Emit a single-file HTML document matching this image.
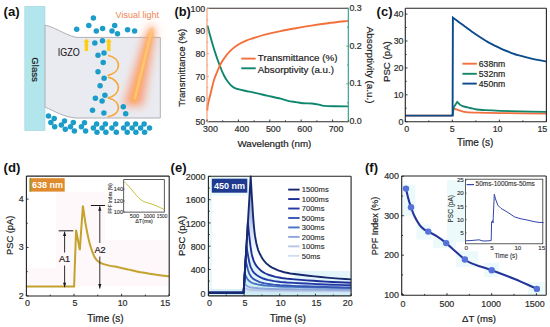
<!DOCTYPE html>
<html><head><meta charset="utf-8"><style>
html,body{margin:0;padding:0;background:#fff;width:550px;height:327px;overflow:hidden;}
svg{display:block;font-family:"Liberation Sans", sans-serif;}
</style></head><body>
<svg width="550" height="327" viewBox="0 0 550 327" font-family='"Liberation Sans", sans-serif'><text x="3.6" y="16.2" font-size="13.2" text-anchor="start" fill="#111" font-weight="bold">(a)</text>
<rect x="24.8" y="6.4" width="20.2" height="124.2" fill="#b3e5ed" stroke="#9cd6e0" stroke-width="0.6"/>
<text x="35.3" y="69.6" font-size="9.6" text-anchor="middle" fill="#151515" font-weight="normal" stroke="#151515" stroke-width="0.2" transform="rotate(90 35.3 69.6)" dominant-baseline="central">Glass</text>
<path d="M45,25.2 C55,27 63,34 76,37.4 L160.3,37.4 L160.3,118 L76,118 C63,117 55,111 45,107.2 Z" fill="#eaebf1" stroke="#b0b0b8" stroke-width="1.0"/>
<defs><filter id="blur1" x="-50%" y="-50%" width="200%" height="200%"><feGaussianBlur stdDeviation="4.0"/></filter><filter id="blur2" x="-50%" y="-50%" width="200%" height="200%"><feGaussianBlur stdDeviation="1.6"/></filter><linearGradient id="arcg" x1="0" y1="0" x2="0" y2="1"><stop offset="0" stop-color="#fbd27a"/><stop offset="0.5" stop-color="#f6a531"/><stop offset="1" stop-color="#fbc060"/></linearGradient></defs>
<defs><linearGradient id="beamg" gradientUnits="userSpaceOnUse" x1="152" y1="26" x2="134" y2="101"><stop offset="0" stop-color="#ffb070" stop-opacity="0"/><stop offset="0.12" stop-color="#ffb060" stop-opacity="1"/><stop offset="1" stop-color="#ffb050"/></linearGradient><linearGradient id="glowg" gradientUnits="userSpaceOnUse" x1="152" y1="20" x2="134" y2="106"><stop offset="0" stop-color="#fb9a72" stop-opacity="0.25"/><stop offset="0.2" stop-color="#fb9a72" stop-opacity="0.85"/><stop offset="1" stop-color="#fb9a72" stop-opacity="0.9"/></linearGradient></defs>
<path d="M148,24 L157,26 L143,106 L123,106 Z" fill="url(#glowg)" filter="url(#blur1)"/>
<line x1="152.5" y1="27" x2="134" y2="100" stroke="url(#beamg)" stroke-width="5.5" stroke-linecap="round" filter="url(#blur2)"/>
<line x1="152" y1="29" x2="135" y2="98" stroke="#ffc878" stroke-width="2.4" stroke-linecap="round" opacity="0.9"/>
<text x="115.6" y="18.3" font-size="9" text-anchor="start" fill="#f4895a" font-weight="normal" stroke="#f4895a" stroke-width="0.05">Visual light</text>
<text x="57.7" y="55.8" font-size="10.4" text-anchor="start" fill="#151515" font-weight="normal" stroke="#151515" stroke-width="0.05" textLength="22" lengthAdjust="spacingAndGlyphs">IGZO</text>
<path d="M84.65,51 L84.65,42 L83.3,42 L86.4,38.6 L89.5,42 L88.15,42 L88.15,51 Z" fill="#fcce16"/>
<path d="M107.05,51 L107.05,42 L105.7,42 L108.8,38.6 L111.9,42 L110.55,42 L110.55,51 Z" fill="#fcce16"/>
<path d="M108,55.3 C122,58.3 122,72.5 107.5,75.5" fill="none" stroke="#f6a93a" stroke-width="1.7"/>
<path d="M108,77.2 C122,80.2 122,95 107.5,98" fill="none" stroke="#f6a93a" stroke-width="1.7"/>
<path d="M108,98 C122,101 122,114 107.5,117" fill="none" stroke="#f6a93a" stroke-width="1.7"/>
<g fill="#1b9cc9"><circle cx="76.7" cy="29.2" r="2.75"/><circle cx="88.8" cy="25.5" r="2.75"/><circle cx="93.4" cy="18" r="2.75"/><circle cx="96.3" cy="31" r="2.75"/><circle cx="102.6" cy="28.5" r="2.75"/><circle cx="114.7" cy="25.4" r="2.75"/><circle cx="112" cy="31" r="2.75"/><circle cx="117.5" cy="33.7" r="2.75"/><circle cx="127.6" cy="29.8" r="2.75"/><circle cx="134.6" cy="31" r="2.75"/><circle cx="94.8" cy="43.1" r="2.75"/><circle cx="102.5" cy="40.8" r="2.75"/><circle cx="98" cy="55.2" r="2.75"/><circle cx="104" cy="53.1" r="2.75"/><circle cx="103.2" cy="62.5" r="2.75"/><circle cx="98" cy="71.7" r="2.75"/><circle cx="104.1" cy="78.2" r="2.75"/><circle cx="100.1" cy="85.7" r="2.75"/><circle cx="104.9" cy="95.3" r="2.75"/><circle cx="95.4" cy="98.3" r="2.75"/><circle cx="102.1" cy="101.1" r="2.75"/><circle cx="92.5" cy="110.3" r="2.75"/><circle cx="103.9" cy="113" r="2.75"/><circle cx="123.3" cy="106.7" r="2.75"/><circle cx="125.7" cy="113.8" r="2.75"/><circle cx="48.5" cy="115.9" r="2.75"/><circle cx="54.2" cy="118.4" r="2.75"/><circle cx="50.9" cy="122.4" r="2.75"/><circle cx="54.7" cy="126.8" r="2.75"/><circle cx="64.5" cy="120.9" r="2.75"/><circle cx="61.3" cy="124.9" r="2.75"/><circle cx="65.3" cy="129.3" r="2.75"/><circle cx="73.3" cy="122.4" r="2.75"/><circle cx="70.5" cy="126.8" r="2.75"/><circle cx="74.4" cy="130.9" r="2.75"/><circle cx="84.5" cy="122.7" r="2.75"/><circle cx="81.4" cy="126.8" r="2.75"/><circle cx="85.6" cy="131.1" r="2.75"/><circle cx="96.6" cy="124" r="2.75"/><circle cx="105.4" cy="124" r="2.75"/><circle cx="115.7" cy="124" r="2.75"/><circle cx="127.2" cy="124" r="2.75"/><circle cx="135.6" cy="124" r="2.75"/><circle cx="144.1" cy="124" r="2.75"/><circle cx="93.4" cy="128.1" r="2.75"/><circle cx="102.1" cy="128.1" r="2.75"/><circle cx="111.9" cy="128.1" r="2.75"/><circle cx="123.6" cy="128.1" r="2.75"/><circle cx="132.1" cy="128.1" r="2.75"/><circle cx="140.6" cy="128.1" r="2.75"/><circle cx="149.5" cy="128.1" r="2.75"/><circle cx="97" cy="132.2" r="2.75"/><circle cx="105.9" cy="132.2" r="2.75"/><circle cx="116.3" cy="132.2" r="2.75"/><circle cx="127.2" cy="132.2" r="2.75"/><circle cx="135.9" cy="132.2" r="2.75"/><circle cx="144.6" cy="132.2" r="2.75"/></g>
<path d="M207.40,25.50 C207.80,27.00 208.63,30.37 209.80,34.50 C210.97,38.63 212.75,45.13 214.40,50.30 C216.05,55.47 218.10,61.30 219.70,65.50 C221.30,69.70 222.63,72.78 224.00,75.50 C225.37,78.22 226.57,80.00 227.90,81.80 C229.23,83.60 230.62,85.17 232.00,86.30 C233.38,87.43 234.03,87.85 236.20,88.60 C238.37,89.35 242.03,90.13 245.00,90.80 C247.97,91.47 250.33,91.80 254.00,92.60 C257.67,93.40 262.57,94.58 267.00,95.60 C271.43,96.62 277.10,97.82 280.60,98.70 C284.10,99.58 285.43,100.33 288.00,100.90 C290.57,101.47 293.50,101.72 296.00,102.10 C298.50,102.48 300.33,102.97 303.00,103.20 C305.67,103.43 309.33,103.27 312.00,103.50 C314.67,103.73 317.00,104.20 319.00,104.60 C321.00,105.00 321.17,105.62 324.00,105.90 C326.83,106.18 332.00,106.22 336.00,106.30 C340.00,106.38 346.00,106.38 348.00,106.40" fill="none" stroke="#0f876e" stroke-width="1.9"/>
<path d="M207.20,110.50 C207.32,109.50 207.43,106.92 207.90,104.50 C208.37,102.08 208.98,100.08 210.00,96.00 C211.02,91.92 212.75,84.17 214.00,80.00 C215.25,75.83 216.42,73.63 217.50,71.00 C218.58,68.37 219.42,66.27 220.50,64.20 C221.58,62.13 222.42,60.77 224.00,58.60 C225.58,56.43 227.73,53.47 230.00,51.20 C232.27,48.93 234.80,46.80 237.60,45.00 C240.40,43.20 244.07,41.57 246.80,40.40 C249.53,39.23 250.97,38.95 254.00,38.00 C257.03,37.05 260.57,35.85 265.00,34.70 C269.43,33.55 275.43,32.18 280.60,31.10 C285.77,30.02 290.90,29.12 296.00,28.20 C301.10,27.28 305.87,26.43 311.20,25.60 C316.53,24.77 321.87,23.98 328.00,23.20 C334.13,22.42 344.67,21.28 348.00,20.90" fill="none" stroke="#f3703a" stroke-width="1.9"/>
<line x1="207" y1="8.3" x2="348.3" y2="8.3" stroke="#3a2e2e" stroke-width="1.1"/>
<line x1="207" y1="121.7" x2="348.3" y2="121.7" stroke="#2a2a2a" stroke-width="1.1"/>
<line x1="207" y1="8.3" x2="207" y2="121.7" stroke="#f39a6a" stroke-width="1.1"/>
<line x1="348.3" y1="8.3" x2="348.3" y2="121.7" stroke="#2a9a88" stroke-width="1.1"/>
<line x1="207" y1="121.7" x2="207" y2="119.5" stroke="#2a2a2a" stroke-width="0.9"/>
<line x1="222.7" y1="121.7" x2="222.7" y2="120.3" stroke="#2a2a2a" stroke-width="0.9"/>
<line x1="238.4" y1="121.7" x2="238.4" y2="119.5" stroke="#2a2a2a" stroke-width="0.9"/>
<line x1="254.1" y1="121.7" x2="254.1" y2="120.3" stroke="#2a2a2a" stroke-width="0.9"/>
<line x1="269.8" y1="121.7" x2="269.8" y2="119.5" stroke="#2a2a2a" stroke-width="0.9"/>
<line x1="285.5" y1="121.7" x2="285.5" y2="120.3" stroke="#2a2a2a" stroke-width="0.9"/>
<line x1="301.2" y1="121.7" x2="301.2" y2="119.5" stroke="#2a2a2a" stroke-width="0.9"/>
<line x1="316.9" y1="121.7" x2="316.9" y2="120.3" stroke="#2a2a2a" stroke-width="0.9"/>
<line x1="332.6" y1="121.7" x2="332.6" y2="119.5" stroke="#2a2a2a" stroke-width="0.9"/>
<line x1="348.3" y1="121.7" x2="348.3" y2="120.3" stroke="#2a2a2a" stroke-width="0.9"/>
<line x1="207" y1="121.7" x2="209" y2="121.7" stroke="#f39a6a" stroke-width="0.9"/>
<line x1="207" y1="110.36" x2="208.3" y2="110.36" stroke="#f39a6a" stroke-width="0.9"/>
<line x1="207" y1="99.02" x2="209" y2="99.02" stroke="#f39a6a" stroke-width="0.9"/>
<line x1="207" y1="87.68" x2="208.3" y2="87.68" stroke="#f39a6a" stroke-width="0.9"/>
<line x1="207" y1="76.34" x2="209" y2="76.34" stroke="#f39a6a" stroke-width="0.9"/>
<line x1="207" y1="65" x2="208.3" y2="65" stroke="#f39a6a" stroke-width="0.9"/>
<line x1="207" y1="53.66" x2="209" y2="53.66" stroke="#f39a6a" stroke-width="0.9"/>
<line x1="207" y1="42.32" x2="208.3" y2="42.32" stroke="#f39a6a" stroke-width="0.9"/>
<line x1="207" y1="30.98" x2="209" y2="30.98" stroke="#f39a6a" stroke-width="0.9"/>
<line x1="207" y1="19.64" x2="208.3" y2="19.64" stroke="#f39a6a" stroke-width="0.9"/>
<line x1="207" y1="8.3" x2="209" y2="8.3" stroke="#f39a6a" stroke-width="0.9"/>
<line x1="207" y1="-3.04" x2="208.3" y2="-3.04" stroke="#f39a6a" stroke-width="0.9"/>
<line x1="348.3" y1="121.7" x2="346.3" y2="121.7" stroke="#2a9a88" stroke-width="0.9"/>
<line x1="348.3" y1="102.8" x2="347" y2="102.8" stroke="#2a9a88" stroke-width="0.9"/>
<line x1="348.3" y1="83.9" x2="346.3" y2="83.9" stroke="#2a9a88" stroke-width="0.9"/>
<line x1="348.3" y1="65" x2="347" y2="65" stroke="#2a9a88" stroke-width="0.9"/>
<line x1="348.3" y1="46.1" x2="346.3" y2="46.1" stroke="#2a9a88" stroke-width="0.9"/>
<line x1="348.3" y1="27.2" x2="347" y2="27.2" stroke="#2a9a88" stroke-width="0.9"/>
<line x1="348.3" y1="8.3" x2="346.3" y2="8.3" stroke="#2a9a88" stroke-width="0.9"/>
<text x="205.3" y="125.1" font-size="8.9" text-anchor="end" fill="#2e2e2e" font-weight="normal" stroke="#2e2e2e" stroke-width="0.2">50</text>
<text x="205.3" y="102.42" font-size="8.9" text-anchor="end" fill="#2e2e2e" font-weight="normal" stroke="#2e2e2e" stroke-width="0.2">60</text>
<text x="205.3" y="79.74" font-size="8.9" text-anchor="end" fill="#2e2e2e" font-weight="normal" stroke="#2e2e2e" stroke-width="0.2">70</text>
<text x="205.3" y="57.06" font-size="8.9" text-anchor="end" fill="#2e2e2e" font-weight="normal" stroke="#2e2e2e" stroke-width="0.2">80</text>
<text x="205.3" y="34.38" font-size="8.9" text-anchor="end" fill="#2e2e2e" font-weight="normal" stroke="#2e2e2e" stroke-width="0.2">90</text>
<text x="205.3" y="11.7" font-size="8.9" text-anchor="end" fill="#2e2e2e" font-weight="normal" stroke="#2e2e2e" stroke-width="0.2">100</text>
<text x="210.5" y="132" font-size="8.9" text-anchor="middle" fill="#2e2e2e" font-weight="normal" stroke="#2e2e2e" stroke-width="0.2">300</text>
<text x="241.9" y="132" font-size="8.9" text-anchor="middle" fill="#2e2e2e" font-weight="normal" stroke="#2e2e2e" stroke-width="0.2">400</text>
<text x="273.3" y="132" font-size="8.9" text-anchor="middle" fill="#2e2e2e" font-weight="normal" stroke="#2e2e2e" stroke-width="0.2">500</text>
<text x="304.7" y="132" font-size="8.9" text-anchor="middle" fill="#2e2e2e" font-weight="normal" stroke="#2e2e2e" stroke-width="0.2">600</text>
<text x="336.1" y="132" font-size="8.9" text-anchor="middle" fill="#2e2e2e" font-weight="normal" stroke="#2e2e2e" stroke-width="0.2">700</text>
<text x="349.4" y="124.1" font-size="8.9" text-anchor="start" fill="#2e2e2e" font-weight="normal" stroke="#2e2e2e" stroke-width="0.2">0.0</text>
<text x="349.4" y="86.3" font-size="8.9" text-anchor="start" fill="#2e2e2e" font-weight="normal" stroke="#2e2e2e" stroke-width="0.2">0.1</text>
<text x="349.4" y="48.5" font-size="8.9" text-anchor="start" fill="#2e2e2e" font-weight="normal" stroke="#2e2e2e" stroke-width="0.2">0.2</text>
<text x="349.4" y="10.7" font-size="8.9" text-anchor="start" fill="#2e2e2e" font-weight="normal" stroke="#2e2e2e" stroke-width="0.2">0.3</text>
<text x="174.4" y="16" font-size="12.8" text-anchor="start" fill="#111" font-weight="bold">(b)</text>
<text x="182" y="67.7" font-size="9.6" text-anchor="middle" fill="#222" font-weight="normal" stroke="#222" stroke-width="0.2" transform="rotate(-90 182 67.7)" dominant-baseline="central">Transmittance (%)</text>
<text x="370" y="65.2" font-size="9.9" text-anchor="middle" fill="#222" font-weight="normal" stroke="#222" stroke-width="0.2" transform="rotate(90 370 65.2)" dominant-baseline="central">Absorptivity (a.u.)</text>
<text x="274.4" y="146.9" font-size="9.75" text-anchor="middle" fill="#222" font-weight="normal" stroke="#222" stroke-width="0.2">Wavelength (nm)</text>
<line x1="241.3" y1="58.6" x2="255.7" y2="58.6" stroke="#f3703a" stroke-width="1.9"/>
<line x1="241.3" y1="68.3" x2="255.7" y2="68.3" stroke="#0f876e" stroke-width="1.9"/>
<text x="257.8" y="60.6" font-size="9.8" text-anchor="start" fill="#1e1e1e" font-weight="normal" stroke="#1e1e1e" stroke-width="0.2">Transmittance (%)</text>
<text x="257.8" y="72.8" font-size="9.8" text-anchor="start" fill="#1e1e1e" font-weight="normal" stroke="#1e1e1e" stroke-width="0.2">Absorptivity (a.u.)</text>
<path d="M405.3,115.6 L452.6,115.6" fill="none" stroke="#f26f3e" stroke-width="1.8"/>
<path d="M452.60,115.60 L453.40,108.40 C453.78,108.52 454.55,108.72 455.70,109.10 C456.85,109.48 458.52,110.18 460.30,110.70 C462.08,111.22 463.60,111.87 466.40,112.20 C469.20,112.53 471.50,112.55 477.10,112.70 C482.70,112.85 488.47,112.95 500.00,113.10 C511.53,113.25 538.58,113.52 546.30,113.60" fill="none" stroke="#f26f3e" stroke-width="1.8"/>
<path d="M452.60,115.60 L453.80,107.20 L457.20,101.90 C457.65,102.35 459.00,103.90 459.90,104.60 C460.80,105.30 460.88,105.53 462.60,106.10 C464.32,106.67 467.78,107.43 470.20,108.00 C472.62,108.57 474.63,109.15 477.10,109.50 C479.57,109.85 481.18,109.88 485.00,110.10 C488.82,110.32 494.17,110.58 500.00,110.80 C505.83,111.02 512.28,111.22 520.00,111.40 C527.72,111.58 541.92,111.82 546.30,111.90" fill="none" stroke="#13866a" stroke-width="1.8"/>
<path d="M405.30,115.60 L452.60,115.60 L452.90,17.60 C453.75,18.23 455.93,19.87 458.00,21.40 C460.07,22.93 462.97,25.07 465.30,26.80 C467.63,28.53 469.45,30.02 472.00,31.80 C474.55,33.58 477.93,35.78 480.60,37.50 C483.27,39.22 485.45,40.67 488.00,42.10 C490.55,43.53 493.40,44.85 495.90,46.10 C498.40,47.35 500.45,48.48 503.00,49.60 C505.55,50.72 508.70,51.87 511.20,52.80 C513.70,53.73 515.45,54.43 518.00,55.20 C520.55,55.97 523.50,56.67 526.50,57.40 C529.50,58.13 532.70,58.93 536.00,59.60 C539.30,60.27 544.58,61.10 546.30,61.40" fill="none" stroke="#0b4a8c" stroke-width="1.9" stroke-linejoin="miter"/>
<line x1="405.3" y1="8.3" x2="546.4" y2="8.3" stroke="#222" stroke-width="1.1"/>
<line x1="405.3" y1="121.8" x2="546.4" y2="121.8" stroke="#222" stroke-width="1.1"/>
<line x1="405.3" y1="8.3" x2="405.3" y2="121.8" stroke="#222" stroke-width="1.1"/>
<line x1="546.4" y1="8.3" x2="546.4" y2="121.8" stroke="#222" stroke-width="1.1"/>
<line x1="405.3" y1="121.8" x2="405.3" y2="119.6" stroke="#222" stroke-width="0.9"/>
<line x1="428.817" y1="121.8" x2="428.817" y2="120.4" stroke="#222" stroke-width="0.9"/>
<line x1="452.333" y1="121.8" x2="452.333" y2="119.6" stroke="#222" stroke-width="0.9"/>
<line x1="475.85" y1="121.8" x2="475.85" y2="120.4" stroke="#222" stroke-width="0.9"/>
<line x1="499.367" y1="121.8" x2="499.367" y2="119.6" stroke="#222" stroke-width="0.9"/>
<line x1="522.883" y1="121.8" x2="522.883" y2="120.4" stroke="#222" stroke-width="0.9"/>
<line x1="546.4" y1="121.8" x2="546.4" y2="119.6" stroke="#222" stroke-width="0.9"/>
<line x1="405.3" y1="121.7" x2="407.5" y2="121.7" stroke="#222" stroke-width="0.9"/>
<line x1="405.3" y1="108.25" x2="406.7" y2="108.25" stroke="#222" stroke-width="0.9"/>
<line x1="405.3" y1="94.8" x2="407.5" y2="94.8" stroke="#222" stroke-width="0.9"/>
<line x1="405.3" y1="81.35" x2="406.7" y2="81.35" stroke="#222" stroke-width="0.9"/>
<line x1="405.3" y1="67.9" x2="407.5" y2="67.9" stroke="#222" stroke-width="0.9"/>
<line x1="405.3" y1="54.45" x2="406.7" y2="54.45" stroke="#222" stroke-width="0.9"/>
<line x1="405.3" y1="41" x2="407.5" y2="41" stroke="#222" stroke-width="0.9"/>
<line x1="405.3" y1="27.55" x2="406.7" y2="27.55" stroke="#222" stroke-width="0.9"/>
<line x1="405.3" y1="14.1" x2="407.5" y2="14.1" stroke="#222" stroke-width="0.9"/>
<text x="403.5" y="124.6" font-size="8.9" text-anchor="end" fill="#2e2e2e" font-weight="normal" stroke="#2e2e2e" stroke-width="0.2">0</text>
<text x="403.5" y="97.7" font-size="8.9" text-anchor="end" fill="#2e2e2e" font-weight="normal" stroke="#2e2e2e" stroke-width="0.2">10</text>
<text x="403.5" y="70.8" font-size="8.9" text-anchor="end" fill="#2e2e2e" font-weight="normal" stroke="#2e2e2e" stroke-width="0.2">20</text>
<text x="403.5" y="43.9" font-size="8.9" text-anchor="end" fill="#2e2e2e" font-weight="normal" stroke="#2e2e2e" stroke-width="0.2">30</text>
<text x="403.5" y="17" font-size="8.9" text-anchor="end" fill="#2e2e2e" font-weight="normal" stroke="#2e2e2e" stroke-width="0.2">40</text>
<text x="406.6" y="132" font-size="8.9" text-anchor="middle" fill="#2e2e2e" font-weight="normal" stroke="#2e2e2e" stroke-width="0.2">0</text>
<text x="452.2" y="132" font-size="8.9" text-anchor="middle" fill="#2e2e2e" font-weight="normal" stroke="#2e2e2e" stroke-width="0.2">5</text>
<text x="497.6" y="132" font-size="8.9" text-anchor="middle" fill="#2e2e2e" font-weight="normal" stroke="#2e2e2e" stroke-width="0.2">10</text>
<text x="547.3" y="132" font-size="8.9" text-anchor="end" fill="#2e2e2e" font-weight="normal" stroke="#2e2e2e" stroke-width="0.2">15</text>
<text x="376.6" y="16.4" font-size="13" text-anchor="start" fill="#111" font-weight="bold">(c)</text>
<text x="386.8" y="61.6" font-size="9.7" text-anchor="middle" fill="#222" font-weight="normal" stroke="#222" stroke-width="0.2" transform="rotate(-90 386.8 61.6)" dominant-baseline="central">PSC (pA)</text>
<text x="475.2" y="146.4" font-size="10" text-anchor="middle" fill="#222" font-weight="normal" stroke="#222" stroke-width="0.2">Time (s)</text>
<line x1="462.4" y1="63.7" x2="476.8" y2="63.7" stroke="#f26f3e" stroke-width="1.9"/>
<text x="478.8" y="66.6" font-size="8.2" text-anchor="start" fill="#262626" font-weight="normal" stroke="#262626" stroke-width="0.2" textLength="26.4" lengthAdjust="spacingAndGlyphs">638nm</text>
<line x1="462.4" y1="73.8" x2="476.8" y2="73.8" stroke="#13866a" stroke-width="1.9"/>
<text x="478.8" y="76.7" font-size="8.2" text-anchor="start" fill="#262626" font-weight="normal" stroke="#262626" stroke-width="0.2" textLength="26.4" lengthAdjust="spacingAndGlyphs">532nm</text>
<line x1="462.4" y1="83.6" x2="476.8" y2="83.6" stroke="#0b4a8c" stroke-width="1.9"/>
<text x="478.8" y="86.5" font-size="8.2" text-anchor="start" fill="#262626" font-weight="normal" stroke="#262626" stroke-width="0.2" textLength="26.4" lengthAdjust="spacingAndGlyphs">450nm</text>
<text x="3.6" y="172.1" font-size="13.2" text-anchor="start" fill="#111" font-weight="bold">(d)</text>
<g fill="#fff8fb"><rect x="56" y="192" width="49" height="94"/><rect x="105" y="240" width="64" height="46"/><rect x="27" y="268" width="29" height="18"/></g>
<path d="M26.40,286.50 L74.10,286.50 L76.10,229.90 L79.80,250.10 L82.90,205.60 C83.13,207.25 83.77,211.95 84.30,215.50 C84.83,219.05 85.18,222.15 86.10,226.90 C87.02,231.65 88.37,238.93 89.80,244.00 C91.23,249.07 93.07,254.22 94.70,257.30 C96.33,260.38 97.17,261.12 99.60,262.50 C102.03,263.88 106.18,264.82 109.30,265.60 C112.42,266.38 115.03,266.53 118.30,267.20 C121.57,267.87 125.83,268.90 128.90,269.60 C131.97,270.30 132.35,270.60 136.70,271.40 C141.05,272.20 149.62,273.58 155.00,274.40 C160.38,275.22 166.67,275.98 169.00,276.30" fill="none" stroke="#c4a22c" stroke-width="2.0" stroke-linejoin="miter"/>
<line x1="58.7" y1="230.8" x2="73.3" y2="230.8" stroke="#1a1a1a" stroke-width="1"/>
<line x1="90.9" y1="205.5" x2="105" y2="205.5" stroke="#1a1a1a" stroke-width="1"/>
<line x1="64.6" y1="231.6" x2="64.6" y2="252.5" stroke="#1a1a1a" stroke-width="0.9"/>
<line x1="64.6" y1="265.5" x2="64.6" y2="287.2" stroke="#1a1a1a" stroke-width="0.9"/>
<path d="M64.6,231.6 L63,236.1 L66.2,236.1 Z" fill="#1a1a1a"/>
<path d="M64.6,287.2 L63,282.7 L66.2,282.7 Z" fill="#1a1a1a"/>
<line x1="99.8" y1="206.3" x2="99.8" y2="243" stroke="#1a1a1a" stroke-width="0.9"/>
<line x1="99.8" y1="256.5" x2="99.8" y2="288.6" stroke="#1a1a1a" stroke-width="0.9"/>
<path d="M99.8,206.3 L98.2,210.8 L101.4,210.8 Z" fill="#1a1a1a"/>
<path d="M99.8,288.6 L98.2,284.1 L101.4,284.1 Z" fill="#1a1a1a"/>
<text x="64.6" y="262.4" font-size="9.2" text-anchor="middle" fill="#1a1a1a" font-weight="normal" stroke="#1a1a1a" stroke-width="0.2">A1</text>
<text x="100" y="253.3" font-size="9.2" text-anchor="middle" fill="#1a1a1a" font-weight="normal" stroke="#1a1a1a" stroke-width="0.2">A2</text>
<line x1="26.4" y1="176.1" x2="169.2" y2="176.1" stroke="#222" stroke-width="1.1"/>
<line x1="26.4" y1="296" x2="169.2" y2="296" stroke="#222" stroke-width="1.1"/>
<line x1="26.4" y1="176.1" x2="26.4" y2="296" stroke="#222" stroke-width="1.1"/>
<line x1="169.2" y1="176.1" x2="169.2" y2="296" stroke="#222" stroke-width="1.1"/>
<line x1="26.4" y1="296" x2="26.4" y2="293.8" stroke="#222" stroke-width="0.9"/>
<line x1="50.2" y1="296" x2="50.2" y2="294.6" stroke="#222" stroke-width="0.9"/>
<line x1="74" y1="296" x2="74" y2="293.8" stroke="#222" stroke-width="0.9"/>
<line x1="97.8" y1="296" x2="97.8" y2="294.6" stroke="#222" stroke-width="0.9"/>
<line x1="121.6" y1="296" x2="121.6" y2="293.8" stroke="#222" stroke-width="0.9"/>
<line x1="145.4" y1="296" x2="145.4" y2="294.6" stroke="#222" stroke-width="0.9"/>
<line x1="169.2" y1="296" x2="169.2" y2="293.8" stroke="#222" stroke-width="0.9"/>
<line x1="26.4" y1="295.8" x2="28.6" y2="295.8" stroke="#222" stroke-width="0.9"/>
<line x1="26.4" y1="271.625" x2="27.8" y2="271.625" stroke="#222" stroke-width="0.9"/>
<line x1="26.4" y1="247.45" x2="28.6" y2="247.45" stroke="#222" stroke-width="0.9"/>
<line x1="26.4" y1="223.275" x2="27.8" y2="223.275" stroke="#222" stroke-width="0.9"/>
<line x1="26.4" y1="199.1" x2="28.6" y2="199.1" stroke="#222" stroke-width="0.9"/>
<text x="23.6" y="298.7" font-size="8.9" text-anchor="end" fill="#2e2e2e" font-weight="normal" stroke="#2e2e2e" stroke-width="0.2">2</text>
<text x="23.6" y="250.35" font-size="8.9" text-anchor="end" fill="#2e2e2e" font-weight="normal" stroke="#2e2e2e" stroke-width="0.2">3</text>
<text x="23.6" y="202" font-size="8.9" text-anchor="end" fill="#2e2e2e" font-weight="normal" stroke="#2e2e2e" stroke-width="0.2">4</text>
<text x="27.4" y="306" font-size="8.9" text-anchor="middle" fill="#2e2e2e" font-weight="normal" stroke="#2e2e2e" stroke-width="0.2">0</text>
<text x="75" y="306" font-size="8.9" text-anchor="middle" fill="#2e2e2e" font-weight="normal" stroke="#2e2e2e" stroke-width="0.2">5</text>
<text x="122.6" y="306" font-size="8.9" text-anchor="middle" fill="#2e2e2e" font-weight="normal" stroke="#2e2e2e" stroke-width="0.2">10</text>
<text x="170.2" y="306" font-size="8.9" text-anchor="end" fill="#2e2e2e" font-weight="normal" stroke="#2e2e2e" stroke-width="0.2">15</text>
<text x="10.2" y="235.3" font-size="9.3" text-anchor="middle" fill="#222" font-weight="normal" stroke="#222" stroke-width="0.2" transform="rotate(-90 10.2 235.3)" dominant-baseline="central">PSC (pA)</text>
<text x="105.5" y="321.5" font-size="10" text-anchor="middle" fill="#222" font-weight="normal" stroke="#222" stroke-width="0.2">Time (s)</text>
<rect x="29.6" y="178.2" width="35.1" height="13.4" fill="#df8a2c"/>
<rect x="29.6" y="178.2" width="1.6" height="13.4" fill="#8f9a35"/>
<text x="47.4" y="188.2" font-size="9" text-anchor="middle" fill="#ffffff" font-weight="bold">638 nm</text>
<rect x="123.7" y="179.6" width="40.6" height="32.5" fill="#fff" stroke="#333" stroke-width="0.8"/>
<path d="M124.10,181.60 C124.67,182.17 126.35,183.80 127.50,185.00 C128.65,186.20 129.78,187.38 131.00,188.80 C132.22,190.22 133.53,192.02 134.80,193.50 C136.07,194.98 137.48,196.58 138.60,197.70 C139.72,198.82 140.47,199.50 141.50,200.20 C142.53,200.90 143.55,201.40 144.80,201.90 C146.05,202.40 147.48,202.72 149.00,203.20 C150.52,203.68 152.23,204.17 153.90,204.80 C155.57,205.43 157.33,206.23 159.00,207.00 C160.67,207.77 163.08,209.00 163.90,209.40" fill="none" stroke="#c7bd3a" stroke-width="1.0"/>
<text x="123" y="214.2" font-size="5.6" text-anchor="end" fill="#333" font-weight="normal" stroke="#333" stroke-width="0.12">100</text>
<line x1="123.7" y1="212.2" x2="124.9" y2="212.2" stroke="#333" stroke-width="0.6"/>
<text x="123" y="203" font-size="5.6" text-anchor="end" fill="#333" font-weight="normal" stroke="#333" stroke-width="0.12">120</text>
<line x1="123.7" y1="201" x2="124.9" y2="201" stroke="#333" stroke-width="0.6"/>
<text x="123" y="191.1" font-size="5.6" text-anchor="end" fill="#333" font-weight="normal" stroke="#333" stroke-width="0.12">140</text>
<line x1="123.7" y1="189.1" x2="124.9" y2="189.1" stroke="#333" stroke-width="0.6"/>
<text x="134.45" y="218.4" font-size="5.6" text-anchor="middle" fill="#333" font-weight="normal" stroke="#333" stroke-width="0.12" textLength="9.3" lengthAdjust="spacingAndGlyphs">500</text>
<text x="149.25" y="218.4" font-size="5.6" text-anchor="middle" fill="#333" font-weight="normal" stroke="#333" stroke-width="0.12" textLength="11.5" lengthAdjust="spacingAndGlyphs">1000</text>
<text x="162.05" y="218.4" font-size="5.6" text-anchor="middle" fill="#333" font-weight="normal" stroke="#333" stroke-width="0.12" textLength="10.5" lengthAdjust="spacingAndGlyphs">1500</text>
<text x="144.1" y="223.4" font-size="5.4" text-anchor="middle" fill="#333" font-weight="normal" stroke="#333" stroke-width="0.12">ΔT(ms)</text>
<text x="110.6" y="198.3" font-size="4.7" text-anchor="middle" fill="#333" font-weight="normal" stroke="#333" stroke-width="0.12" transform="rotate(-90 110.6 198.3)" dominant-baseline="central">PPF Index (%)</text>
<text x="170.6" y="172.4" font-size="13" text-anchor="start" fill="#111" font-weight="bold">(e)</text>
<rect x="208.4" y="176.3" width="3.5" height="119.6" fill="#e8f8fa"/>
<rect x="209" y="176.8" width="41" height="19" fill="#eaf9fa"/>
<rect x="294" y="271" width="57" height="25" fill="#e4f6f9"/>
<rect x="208.4" y="289" width="142.7" height="7" fill="#d8f2f6"/>
<defs><clipPath id="wedgeclip"><rect x="240" y="176" width="30" height="90"/></clipPath><linearGradient id="wedgeg" gradientUnits="userSpaceOnUse" x1="0" y1="176" x2="0" y2="262"><stop offset="0" stop-color="#7f96d8"/><stop offset="0.5" stop-color="#b4c4ec"/><stop offset="1" stop-color="#e2f6f9" stop-opacity="0"/></linearGradient></defs>
<path d="M208.40,292.70 L243.60,292.70 L250.70,176.40 L251.03,182.29 L251.36,188.17 L251.69,193.81 L252.02,199.13 L252.35,204.31 L252.68,209.66 L253.01,214.70 L253.33,219.10 L253.66,223.12 L253.99,226.87 L254.32,230.25 L254.65,233.20 L254.98,235.71 L256.54,244.32 L258.09,249.85 L259.65,253.50 L261.21,256.42 L262.76,259.01 L264.32,261.20 L265.88,262.95 L267.43,264.37 L268.99,265.60 L270.55,266.67 L272.11,267.60 L278.18,270.37 L284.26,272.23 L290.33,273.46 L296.41,274.30 L302.49,275.02 L308.56,275.73 L314.64,276.40 L320.72,277.03 L326.79,277.60 L332.87,278.12 L338.95,278.59 L345.02,279.00 L351.10,279.35 L351.1,295.9 L243.6,295.9 Z" fill="url(#wedgeg)" clip-path="url(#wedgeclip)"/>
<path d="M208.40,292.70 L243.60,292.70 L247.86,222.92 L248.19,226.09 L248.52,229.27 L248.85,232.35 L249.18,235.26 L249.51,238.11 L249.84,241.08 L250.17,243.89 L250.49,246.36 L250.82,248.64 L251.15,250.77 L251.48,252.70 L251.81,254.40 L252.14,255.85 L253.70,260.87 L255.25,264.15 L256.81,266.34 L258.37,268.10 L259.92,269.68 L261.48,271.02 L263.04,272.11 L264.59,272.99 L266.15,273.75 L267.71,274.42 L269.26,275.01 L275.56,276.82 L281.86,278.03 L288.15,278.82 L294.44,279.37 L300.74,279.86 L307.04,280.33 L313.33,280.79 L319.62,281.21 L325.92,281.59 L332.22,281.94 L338.51,282.25 L344.81,282.52 L351.10,282.75 L351.1,295.9 L243.6,295.9 Z" fill="#e2f6f9"/>
<path d="M208.40,292.70 L243.60,292.70 L244.74,274.09 L245.07,274.69 L245.39,275.30 L245.72,275.90 L246.05,276.47 L246.38,277.05 L246.71,277.65 L247.04,278.23 L247.37,278.75 L247.70,279.24 L248.03,279.70 L248.36,280.12 L248.69,280.50 L249.02,280.83 L250.57,281.99 L252.13,282.78 L253.69,283.32 L255.24,283.77 L256.80,284.18 L258.36,284.53 L259.91,284.82 L261.47,285.06 L263.03,285.27 L264.58,285.45 L266.14,285.62 L272.68,286.15 L279.21,286.51 L285.75,286.75 L292.28,286.92 L298.82,287.08 L305.35,287.23 L311.89,287.38 L318.42,287.51 L324.96,287.64 L331.49,287.75 L338.03,287.85 L344.56,287.94 L351.10,288.01 L351.1,295.9 L243.6,295.9 Z" fill="#cdeef6"/>
<path d="M208.40,292.70 L243.60,292.70 L243.74,290.37 L244.07,290.41 L244.40,290.45 L244.73,290.49 L245.06,290.53 L245.39,290.57 L245.72,290.61 L246.05,290.65 L246.38,290.69 L246.71,290.73 L247.04,290.76 L247.36,290.79 L247.69,290.82 L248.02,290.85 L249.58,290.94 L251.14,291.01 L252.69,291.06 L254.25,291.10 L255.81,291.14 L257.36,291.17 L258.92,291.20 L260.48,291.22 L262.03,291.24 L263.59,291.26 L265.15,291.28 L271.76,291.33 L278.37,291.37 L284.98,291.40 L291.59,291.42 L298.21,291.43 L304.82,291.45 L311.43,291.47 L318.04,291.49 L324.65,291.50 L331.26,291.51 L337.88,291.53 L344.49,291.54 L351.10,291.55" fill="none" stroke="#cfdff0" stroke-width="1.9" stroke-linejoin="round"/>
<path d="M208.40,292.70 L243.60,292.70 L243.88,288.05 L244.21,288.16 L244.54,288.27 L244.87,288.38 L245.20,288.48 L245.53,288.59 L245.86,288.70 L246.19,288.81 L246.52,288.91 L246.85,289.01 L247.18,289.10 L247.51,289.18 L247.84,289.26 L248.16,289.33 L249.72,289.56 L251.28,289.73 L252.84,289.85 L254.39,289.95 L255.95,290.04 L257.51,290.12 L259.06,290.18 L260.62,290.24 L262.18,290.28 L263.73,290.33 L265.29,290.37 L271.89,290.49 L278.49,290.58 L285.09,290.64 L291.69,290.68 L298.29,290.72 L304.89,290.76 L311.49,290.80 L318.10,290.83 L324.70,290.87 L331.30,290.90 L337.90,290.92 L344.50,290.94 L351.10,290.97" fill="none" stroke="#b7c6e6" stroke-width="1.9" stroke-linejoin="round"/>
<path d="M208.40,292.70 L243.60,292.70 L244.13,283.98 L244.46,284.21 L244.79,284.44 L245.12,284.67 L245.45,284.89 L245.78,285.12 L246.11,285.35 L246.44,285.59 L246.77,285.79 L247.10,285.99 L247.43,286.17 L247.75,286.35 L248.08,286.50 L248.41,286.64 L249.97,287.12 L251.53,287.46 L253.08,287.69 L254.64,287.88 L256.20,288.06 L257.75,288.22 L259.31,288.35 L260.87,288.46 L262.42,288.55 L263.98,288.63 L265.54,288.71 L272.12,288.96 L278.70,289.13 L285.28,289.24 L291.86,289.32 L298.45,289.39 L305.03,289.46 L311.61,289.54 L318.19,289.60 L324.77,289.66 L331.35,289.72 L337.94,289.77 L344.52,289.81 L351.10,289.85" fill="none" stroke="#8fa6d8" stroke-width="1.9" stroke-linejoin="round"/>
<path d="M208.40,292.70 L243.60,292.70 L244.74,274.09 L245.07,274.69 L245.39,275.30 L245.72,275.90 L246.05,276.47 L246.38,277.05 L246.71,277.65 L247.04,278.23 L247.37,278.75 L247.70,279.24 L248.03,279.70 L248.36,280.12 L248.69,280.50 L249.02,280.83 L250.57,281.99 L252.13,282.78 L253.69,283.32 L255.24,283.77 L256.80,284.18 L258.36,284.53 L259.91,284.82 L261.47,285.06 L263.03,285.27 L264.58,285.45 L266.14,285.62 L272.68,286.15 L279.21,286.51 L285.75,286.75 L292.28,286.92 L298.82,287.08 L305.35,287.23 L311.89,287.38 L318.42,287.51 L324.96,287.64 L331.49,287.75 L338.03,287.85 L344.56,287.94 L351.10,288.01" fill="none" stroke="#4a74c2" stroke-width="1.9" stroke-linejoin="round"/>
<path d="M208.40,292.70 L243.60,292.70 L245.59,260.14 L245.92,261.53 L246.25,262.93 L246.58,264.28 L246.91,265.57 L247.23,266.84 L247.56,268.16 L247.89,269.42 L248.22,270.53 L248.55,271.55 L248.88,272.51 L249.21,273.38 L249.54,274.16 L249.87,274.81 L251.43,277.11 L252.98,278.62 L254.54,279.64 L256.10,280.46 L257.65,281.20 L259.21,281.83 L260.77,282.34 L262.32,282.76 L263.88,283.12 L265.44,283.44 L266.99,283.72 L273.46,284.60 L279.93,285.19 L286.40,285.57 L292.87,285.84 L299.34,286.08 L305.81,286.32 L312.28,286.54 L318.75,286.75 L325.22,286.94 L331.69,287.11 L338.16,287.26 L344.63,287.39 L351.10,287.51" fill="none" stroke="#3556b3" stroke-width="1.9" stroke-linejoin="round"/>
<path d="M208.40,292.70 L243.60,292.70 L246.44,246.18 L246.77,248.17 L247.10,250.17 L247.43,252.10 L247.76,253.95 L248.09,255.76 L248.42,257.65 L248.75,259.44 L249.07,261.02 L249.40,262.49 L249.73,263.86 L250.06,265.11 L250.39,266.21 L250.72,267.15 L252.28,270.43 L253.83,272.59 L255.39,274.04 L256.95,275.22 L258.50,276.27 L260.06,277.17 L261.62,277.90 L263.17,278.50 L264.73,279.02 L266.29,279.47 L267.85,279.87 L274.25,281.12 L280.65,281.96 L287.06,282.51 L293.46,282.89 L299.87,283.23 L306.27,283.56 L312.67,283.88 L319.08,284.18 L325.48,284.45 L331.89,284.69 L338.29,284.91 L344.70,285.09 L351.10,285.26" fill="none" stroke="#2439a8" stroke-width="1.9" stroke-linejoin="round"/>
<path d="M208.40,292.70 L243.60,292.70 L247.86,222.92 L248.19,226.09 L248.52,229.27 L248.85,232.35 L249.18,235.26 L249.51,238.11 L249.84,241.08 L250.17,243.89 L250.49,246.36 L250.82,248.64 L251.15,250.77 L251.48,252.70 L251.81,254.40 L252.14,255.85 L253.70,260.87 L255.25,264.15 L256.81,266.34 L258.37,268.10 L259.92,269.68 L261.48,271.02 L263.04,272.11 L264.59,272.99 L266.15,273.75 L267.71,274.42 L269.26,275.01 L275.56,276.82 L281.86,278.03 L288.15,278.82 L294.44,279.37 L300.74,279.86 L307.04,280.33 L313.33,280.79 L319.62,281.21 L325.92,281.59 L332.22,281.94 L338.51,282.25 L344.81,282.52 L351.10,282.75" fill="none" stroke="#1d2f94" stroke-width="1.9" stroke-linejoin="round"/>
<path d="M208.40,292.70 L243.60,292.70 L250.70,176.40 L251.03,182.29 L251.36,188.17 L251.69,193.81 L252.02,199.13 L252.35,204.31 L252.68,209.66 L253.01,214.70 L253.33,219.10 L253.66,223.12 L253.99,226.87 L254.32,230.25 L254.65,233.20 L254.98,235.71 L256.54,244.32 L258.09,249.85 L259.65,253.50 L261.21,256.42 L262.76,259.01 L264.32,261.20 L265.88,262.95 L267.43,264.37 L268.99,265.60 L270.55,266.67 L272.11,267.60 L278.18,270.37 L284.26,272.23 L290.33,273.46 L296.41,274.30 L302.49,275.02 L308.56,275.73 L314.64,276.40 L320.72,277.03 L326.79,277.60 L332.87,278.12 L338.95,278.59 L345.02,279.00 L351.10,279.35" fill="none" stroke="#172a6e" stroke-width="1.9" stroke-linejoin="round"/>
<line x1="208.4" y1="176.3" x2="351.1" y2="176.3" stroke="#222" stroke-width="1.1"/>
<line x1="208.4" y1="295.9" x2="351.1" y2="295.9" stroke="#222" stroke-width="1.1"/>
<line x1="208.4" y1="176.3" x2="208.4" y2="295.9" stroke="#222" stroke-width="1.1"/>
<line x1="351.1" y1="176.3" x2="351.1" y2="295.9" stroke="#222" stroke-width="1.1"/>
<line x1="208.4" y1="295.9" x2="208.4" y2="293.7" stroke="#222" stroke-width="0.9"/>
<line x1="226.238" y1="295.9" x2="226.238" y2="294.5" stroke="#222" stroke-width="0.9"/>
<line x1="244.075" y1="295.9" x2="244.075" y2="293.7" stroke="#222" stroke-width="0.9"/>
<line x1="261.913" y1="295.9" x2="261.913" y2="294.5" stroke="#222" stroke-width="0.9"/>
<line x1="279.75" y1="295.9" x2="279.75" y2="293.7" stroke="#222" stroke-width="0.9"/>
<line x1="297.588" y1="295.9" x2="297.588" y2="294.5" stroke="#222" stroke-width="0.9"/>
<line x1="315.425" y1="295.9" x2="315.425" y2="293.7" stroke="#222" stroke-width="0.9"/>
<line x1="333.263" y1="295.9" x2="333.263" y2="294.5" stroke="#222" stroke-width="0.9"/>
<line x1="351.1" y1="295.9" x2="351.1" y2="293.7" stroke="#222" stroke-width="0.9"/>
<line x1="208.4" y1="292.7" x2="210.6" y2="292.7" stroke="#222" stroke-width="0.9"/>
<line x1="208.4" y1="281.07" x2="209.8" y2="281.07" stroke="#222" stroke-width="0.9"/>
<line x1="208.4" y1="269.44" x2="210.6" y2="269.44" stroke="#222" stroke-width="0.9"/>
<line x1="208.4" y1="257.81" x2="209.8" y2="257.81" stroke="#222" stroke-width="0.9"/>
<line x1="208.4" y1="246.18" x2="210.6" y2="246.18" stroke="#222" stroke-width="0.9"/>
<line x1="208.4" y1="234.55" x2="209.8" y2="234.55" stroke="#222" stroke-width="0.9"/>
<line x1="208.4" y1="222.92" x2="210.6" y2="222.92" stroke="#222" stroke-width="0.9"/>
<line x1="208.4" y1="211.29" x2="209.8" y2="211.29" stroke="#222" stroke-width="0.9"/>
<line x1="208.4" y1="199.66" x2="210.6" y2="199.66" stroke="#222" stroke-width="0.9"/>
<line x1="208.4" y1="188.03" x2="209.8" y2="188.03" stroke="#222" stroke-width="0.9"/>
<line x1="208.4" y1="176.4" x2="210.6" y2="176.4" stroke="#222" stroke-width="0.9"/>
<text x="205.5" y="296.5" font-size="8.9" text-anchor="end" fill="#2e2e2e" font-weight="normal" stroke="#2e2e2e" stroke-width="0.2">0</text>
<text x="205.5" y="273.24" font-size="8.9" text-anchor="end" fill="#2e2e2e" font-weight="normal" stroke="#2e2e2e" stroke-width="0.2">400</text>
<text x="205.5" y="249.98" font-size="8.9" text-anchor="end" fill="#2e2e2e" font-weight="normal" stroke="#2e2e2e" stroke-width="0.2">800</text>
<text x="205.5" y="226.72" font-size="8.9" text-anchor="end" fill="#2e2e2e" font-weight="normal" stroke="#2e2e2e" stroke-width="0.2">1200</text>
<text x="205.5" y="203.46" font-size="8.9" text-anchor="end" fill="#2e2e2e" font-weight="normal" stroke="#2e2e2e" stroke-width="0.2">1600</text>
<text x="205.5" y="180.2" font-size="8.9" text-anchor="end" fill="#2e2e2e" font-weight="normal" stroke="#2e2e2e" stroke-width="0.2">2000</text>
<text x="209.4" y="306.2" font-size="8.9" text-anchor="middle" fill="#2e2e2e" font-weight="normal" stroke="#2e2e2e" stroke-width="0.2">0</text>
<text x="245.075" y="306.2" font-size="8.9" text-anchor="middle" fill="#2e2e2e" font-weight="normal" stroke="#2e2e2e" stroke-width="0.2">5</text>
<text x="280.75" y="306.2" font-size="8.9" text-anchor="middle" fill="#2e2e2e" font-weight="normal" stroke="#2e2e2e" stroke-width="0.2">10</text>
<text x="316.425" y="306.2" font-size="8.9" text-anchor="middle" fill="#2e2e2e" font-weight="normal" stroke="#2e2e2e" stroke-width="0.2">15</text>
<text x="352.6" y="306.2" font-size="8.9" text-anchor="end" fill="#2e2e2e" font-weight="normal" stroke="#2e2e2e" stroke-width="0.2">20</text>
<text x="181.4" y="236" font-size="9.5" text-anchor="middle" fill="#222" font-weight="normal" stroke="#222" stroke-width="0.2" transform="rotate(-90 181.4 236)" dominant-baseline="central">PSC (pA)</text>
<text x="287.8" y="321.9" font-size="10" text-anchor="middle" fill="#222" font-weight="normal" stroke="#222" stroke-width="0.2">Time (s)</text>
<rect x="211.8" y="178.7" width="35.5" height="14" fill="#1f3a8e"/>
<text x="229.5" y="188.9" font-size="9" text-anchor="middle" fill="#ffffff" font-weight="bold">450 nm</text>
<line x1="288.2" y1="189.6" x2="299.6" y2="189.6" stroke="#172a6e" stroke-width="1.9"/>
<text x="301.7" y="192.3" font-size="7.6" text-anchor="start" fill="#262626" font-weight="normal" stroke="#262626" stroke-width="0.12">1500ms</text>
<line x1="288.2" y1="199.06" x2="299.6" y2="199.06" stroke="#1d2f94" stroke-width="1.9"/>
<text x="301.7" y="201.76" font-size="7.6" text-anchor="start" fill="#262626" font-weight="normal" stroke="#262626" stroke-width="0.12">1000ms</text>
<line x1="288.2" y1="208.52" x2="299.6" y2="208.52" stroke="#2439a8" stroke-width="1.9"/>
<text x="301.7" y="211.22" font-size="7.6" text-anchor="start" fill="#262626" font-weight="normal" stroke="#262626" stroke-width="0.12">700ms</text>
<line x1="288.2" y1="217.98" x2="299.6" y2="217.98" stroke="#3556b3" stroke-width="1.9"/>
<text x="301.7" y="220.68" font-size="7.6" text-anchor="start" fill="#262626" font-weight="normal" stroke="#262626" stroke-width="0.12">500ms</text>
<line x1="288.2" y1="227.44" x2="299.6" y2="227.44" stroke="#4a74c2" stroke-width="1.9"/>
<text x="301.7" y="230.14" font-size="7.6" text-anchor="start" fill="#262626" font-weight="normal" stroke="#262626" stroke-width="0.12">300ms</text>
<line x1="288.2" y1="236.9" x2="299.6" y2="236.9" stroke="#8fa6d8" stroke-width="1.9"/>
<text x="301.7" y="239.6" font-size="7.6" text-anchor="start" fill="#262626" font-weight="normal" stroke="#262626" stroke-width="0.12">200ms</text>
<line x1="288.2" y1="246.36" x2="299.6" y2="246.36" stroke="#b7c6e6" stroke-width="1.9"/>
<text x="301.7" y="249.06" font-size="7.6" text-anchor="start" fill="#262626" font-weight="normal" stroke="#262626" stroke-width="0.12">100ms</text>
<line x1="288.2" y1="255.82" x2="299.6" y2="255.82" stroke="#cfdff0" stroke-width="1.9"/>
<text x="301.7" y="258.52" font-size="7.6" text-anchor="start" fill="#262626" font-weight="normal" stroke="#262626" stroke-width="0.12">50ms</text>
<text x="365" y="171.6" font-size="13" text-anchor="start" fill="#111" font-weight="bold">(f)</text>
<g fill="#ecfafb"><rect x="401.8" y="184.6" width="13.5" height="31.7"/><rect x="416.5" y="224.5" width="15" height="15"/><rect x="433" y="238.3" width="23" height="10"/><rect x="456" y="251" width="22" height="16"/><rect x="484" y="263" width="15" height="14"/><rect x="528" y="282" width="17" height="13"/><rect x="447" y="180" width="18.5" height="62"/></g>
<path d="M406.00,188.60 C406.38,190.25 407.47,195.40 408.30,198.50 C409.13,201.60 409.97,204.23 411.00,207.20 C412.03,210.17 413.08,213.37 414.50,216.30 C415.92,219.23 417.92,222.63 419.50,224.80 C421.08,226.97 422.55,228.17 424.00,229.30 C425.45,230.43 426.03,230.42 428.20,231.60 C430.37,232.78 434.00,234.48 437.00,236.40 C440.00,238.32 443.20,240.67 446.20,243.10 C449.20,245.53 451.92,248.27 455.00,251.00 C458.08,253.73 461.93,257.43 464.70,259.50 C467.47,261.57 468.83,262.18 471.60,263.40 C474.37,264.62 477.95,265.67 481.30,266.80 C484.65,267.93 486.25,268.20 491.70,270.20 C497.15,272.20 506.47,275.68 514.00,278.80 C521.53,281.92 533.08,287.22 536.90,288.90" fill="none" stroke="#25349a" stroke-width="2.1"/>
<g fill="#5672da"><circle cx="406" cy="188.6" r="3.2"/><circle cx="411" cy="207.2" r="3.2"/><circle cx="428.2" cy="231.6" r="3.2"/><circle cx="446.2" cy="243.1" r="3.2"/><circle cx="464.9" cy="259.5" r="3.2"/><circle cx="491.7" cy="270.2" r="3.2"/><circle cx="536.9" cy="288.9" r="3.2"/></g>
<line x1="401.7" y1="176" x2="546.2" y2="176" stroke="#222" stroke-width="1.1"/>
<line x1="401.7" y1="295.3" x2="546.2" y2="295.3" stroke="#222" stroke-width="1.1"/>
<line x1="401.7" y1="176" x2="401.7" y2="295.3" stroke="#222" stroke-width="1.1"/>
<line x1="546.2" y1="176" x2="546.2" y2="295.3" stroke="#222" stroke-width="1.1"/>
<line x1="402.3" y1="295.3" x2="402.3" y2="293.1" stroke="#222" stroke-width="0.9"/>
<line x1="424.65" y1="295.3" x2="424.65" y2="293.9" stroke="#222" stroke-width="0.9"/>
<line x1="447" y1="295.3" x2="447" y2="293.1" stroke="#222" stroke-width="0.9"/>
<line x1="469.35" y1="295.3" x2="469.35" y2="293.9" stroke="#222" stroke-width="0.9"/>
<line x1="491.7" y1="295.3" x2="491.7" y2="293.1" stroke="#222" stroke-width="0.9"/>
<line x1="514.05" y1="295.3" x2="514.05" y2="293.9" stroke="#222" stroke-width="0.9"/>
<line x1="536.4" y1="295.3" x2="536.4" y2="293.1" stroke="#222" stroke-width="0.9"/>
<line x1="401.7" y1="294.6" x2="403.9" y2="294.6" stroke="#222" stroke-width="0.9"/>
<line x1="401.7" y1="274.883" x2="403.1" y2="274.883" stroke="#222" stroke-width="0.9"/>
<line x1="401.7" y1="255.167" x2="403.9" y2="255.167" stroke="#222" stroke-width="0.9"/>
<line x1="401.7" y1="235.45" x2="403.1" y2="235.45" stroke="#222" stroke-width="0.9"/>
<line x1="401.7" y1="215.733" x2="403.9" y2="215.733" stroke="#222" stroke-width="0.9"/>
<line x1="401.7" y1="196.017" x2="403.1" y2="196.017" stroke="#222" stroke-width="0.9"/>
<line x1="401.7" y1="176.3" x2="403.9" y2="176.3" stroke="#222" stroke-width="0.9"/>
<text x="399" y="297.5" font-size="8.9" text-anchor="end" fill="#2e2e2e" font-weight="normal" stroke="#2e2e2e" stroke-width="0.2">100</text>
<text x="399" y="258.067" font-size="8.9" text-anchor="end" fill="#2e2e2e" font-weight="normal" stroke="#2e2e2e" stroke-width="0.2">200</text>
<text x="399" y="218.633" font-size="8.9" text-anchor="end" fill="#2e2e2e" font-weight="normal" stroke="#2e2e2e" stroke-width="0.2">300</text>
<text x="399" y="179.2" font-size="8.9" text-anchor="end" fill="#2e2e2e" font-weight="normal" stroke="#2e2e2e" stroke-width="0.2">400</text>
<text x="402.9" y="306.6" font-size="8.9" text-anchor="middle" fill="#2e2e2e" font-weight="normal" stroke="#2e2e2e" stroke-width="0.2">0</text>
<text x="446.9" y="306.6" font-size="8.9" text-anchor="middle" fill="#2e2e2e" font-weight="normal" stroke="#2e2e2e" stroke-width="0.2">500</text>
<text x="491.2" y="306.6" font-size="8.9" text-anchor="middle" fill="#2e2e2e" font-weight="normal" stroke="#2e2e2e" stroke-width="0.2">1000</text>
<text x="534.8" y="306.6" font-size="8.9" text-anchor="middle" fill="#2e2e2e" font-weight="normal" stroke="#2e2e2e" stroke-width="0.2">1500</text>
<text x="374.6" y="226.1" font-size="9" text-anchor="middle" fill="#222" font-weight="normal" stroke="#222" stroke-width="0.2" transform="rotate(-90 374.6 226.1)" dominant-baseline="central">PPF Index (%)</text>
<text x="479.1" y="321.6" font-size="9.6" text-anchor="middle" fill="#222" font-weight="normal" stroke="#222" stroke-width="0.2">ΔT (ms)</text>
<rect x="465.5" y="179.2" width="77.3" height="64.6" fill="#fff" stroke="#333" stroke-width="0.8"/>
<path d="M466.00,240.80 L470.00,240.60 L475.00,240.20 L479.00,239.80 L483.00,241.00 L487.00,240.90 L491.20,240.60 L491.60,222.00 L492.60,220.60 L493.00,223.00 L494.30,194.20 L495.50,199.00 L497.80,205.20 L501.00,208.40 L506.00,211.30 L510.00,213.80 L514.30,216.80 L520.00,218.60 L528.00,220.20 L534.00,221.60 L538.00,222.30 L543.60,222.60" fill="none" stroke="#3546a8" stroke-width="1.0"/>
<text x="463.8" y="234.9" font-size="6.2" text-anchor="end" fill="#333" font-weight="normal" stroke="#333" stroke-width="0.12">5</text>
<line x1="465.5" y1="232.8" x2="466.7" y2="232.8" stroke="#333" stroke-width="0.6"/>
<text x="463.8" y="221.7" font-size="6.2" text-anchor="end" fill="#333" font-weight="normal" stroke="#333" stroke-width="0.12">10</text>
<line x1="465.5" y1="219.6" x2="466.7" y2="219.6" stroke="#333" stroke-width="0.6"/>
<text x="463.8" y="208.5" font-size="6.2" text-anchor="end" fill="#333" font-weight="normal" stroke="#333" stroke-width="0.12">15</text>
<line x1="465.5" y1="206.4" x2="466.7" y2="206.4" stroke="#333" stroke-width="0.6"/>
<text x="463.8" y="195.3" font-size="6.2" text-anchor="end" fill="#333" font-weight="normal" stroke="#333" stroke-width="0.12">20</text>
<line x1="465.5" y1="193.2" x2="466.7" y2="193.2" stroke="#333" stroke-width="0.6"/>
<text x="463.8" y="182.1" font-size="6.2" text-anchor="end" fill="#333" font-weight="normal" stroke="#333" stroke-width="0.12">25</text>
<line x1="465.5" y1="180" x2="466.7" y2="180" stroke="#333" stroke-width="0.6"/>
<text x="545.2" y="250.3" font-size="6.2" text-anchor="end" fill="#333" font-weight="normal" stroke="#333" stroke-width="0.12">15</text>
<text x="466.3" y="250.3" font-size="6.2" text-anchor="middle" fill="#333" font-weight="normal" stroke="#333" stroke-width="0.12">0</text>
<text x="492.067" y="250.3" font-size="6.2" text-anchor="middle" fill="#333" font-weight="normal" stroke="#333" stroke-width="0.12">5</text>
<text x="517.833" y="250.3" font-size="6.2" text-anchor="middle" fill="#333" font-weight="normal" stroke="#333" stroke-width="0.12">10</text>
<text x="505.9" y="258.2" font-size="6.3" text-anchor="middle" fill="#333" font-weight="normal" stroke="#333" stroke-width="0.12">Time (s)</text>
<text x="450.5" y="208.8" font-size="6.5" text-anchor="middle" fill="#333" font-weight="normal" stroke="#333" stroke-width="0.12" transform="rotate(-90 450.5 208.8)" dominant-baseline="central">PSC (pA)</text>
<line x1="466.6" y1="184.6" x2="474" y2="184.6" stroke="#3546a8" stroke-width="1.2"/>
<text x="475.6" y="186.4" font-size="6.5" text-anchor="start" fill="#333" font-weight="normal" stroke="#333" stroke-width="0.12">50ms-1000ms-50ms</text></svg>
</body></html>
